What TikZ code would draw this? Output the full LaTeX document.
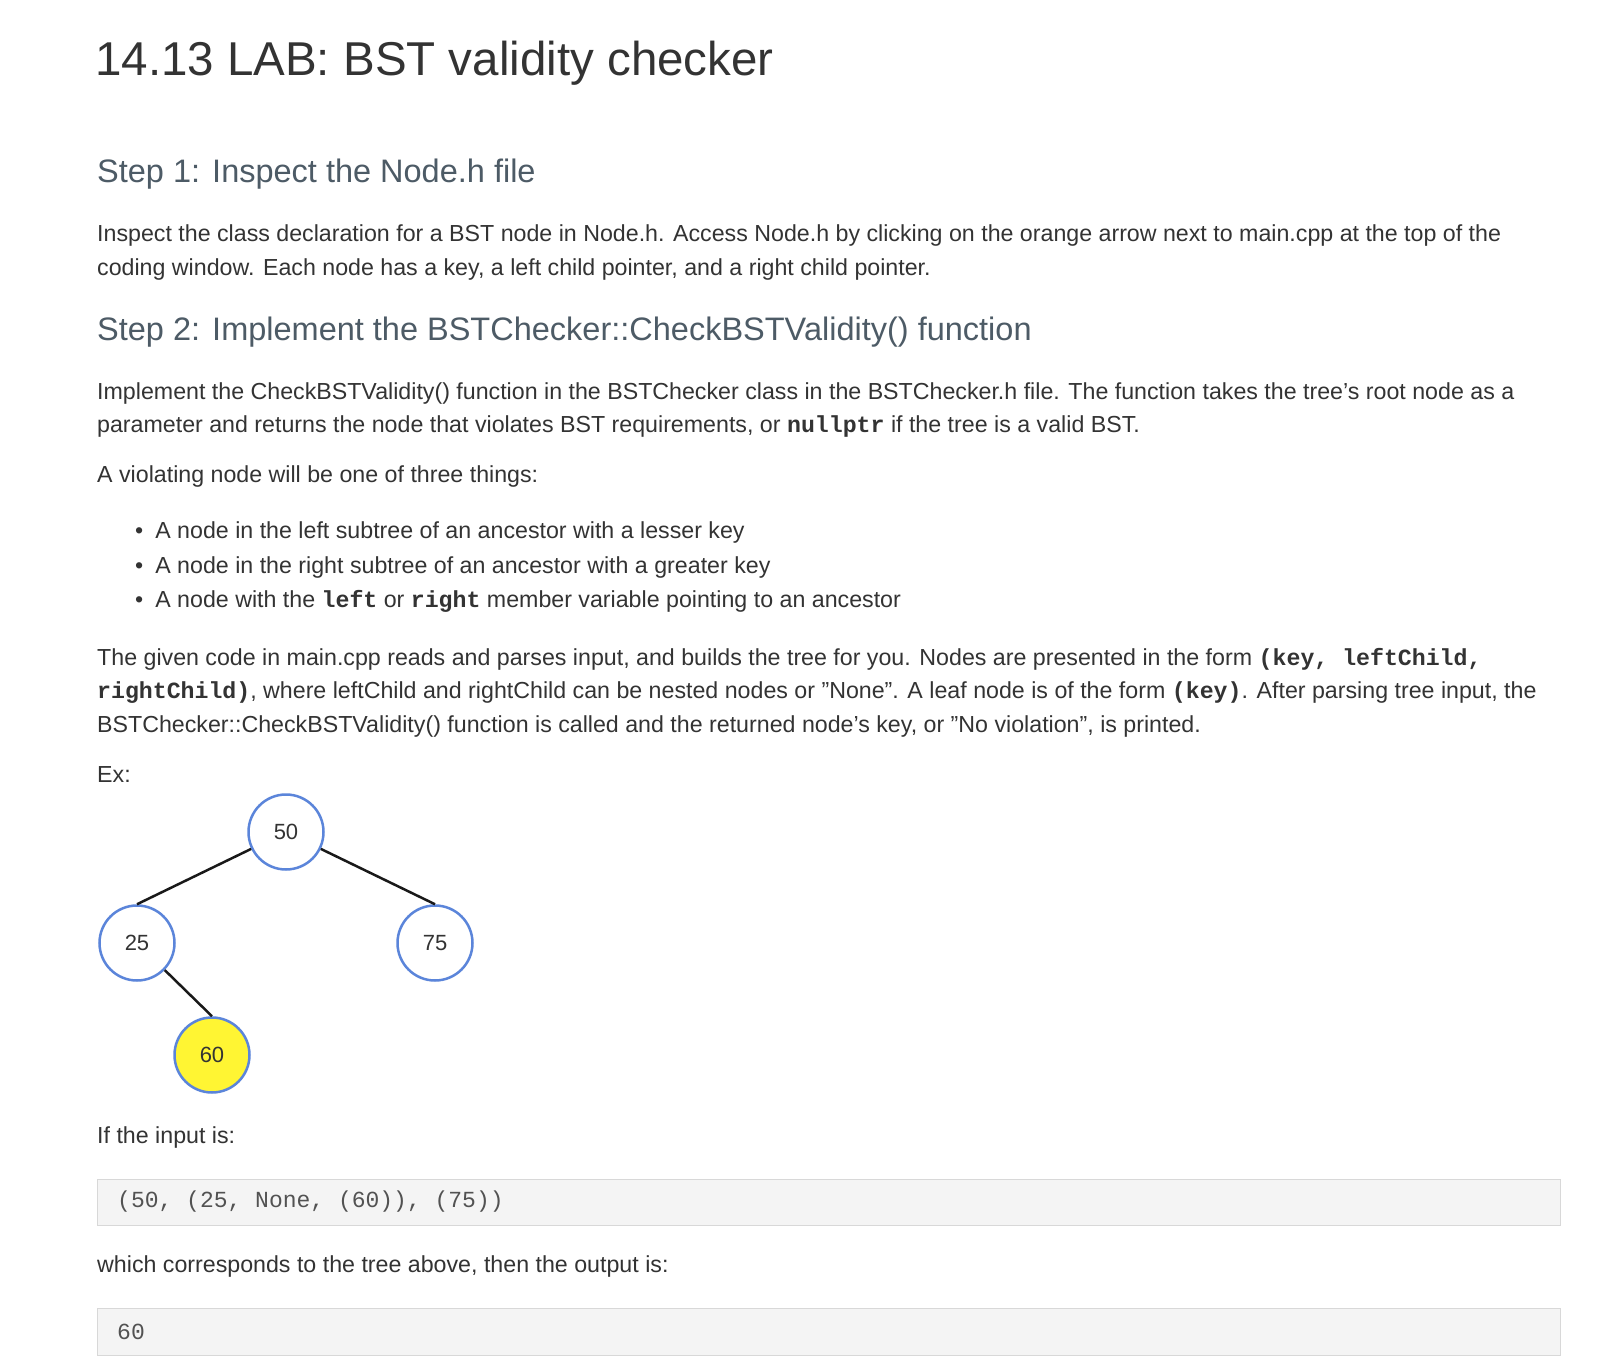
\documentclass[tikz,border=0pt]{standalone}
\usepackage{fontspec}
\setmainfont{Liberation Sans}
\newfontfamily\codefont{Liberation Mono}
\definecolor{txt}{HTML}{333333}
\definecolor{head}{HTML}{4D5B66}
\definecolor{ring}{HTML}{5B85DA}
\definecolor{codebg}{HTML}{F4F4F4}
\definecolor{codeln}{HTML}{D8D8D8}
\newcommand{\ic}[1]{{\codefont\bfseries #1}}
\newcommand{\dq}{\symbol{34}}
\begin{document}
\begin{tikzpicture}[x=1pt,y=-1pt,
  body/.style={anchor=west,inner sep=0,text=txt,font=\fontsize{23.2}{27}\selectfont},
  hd/.style={anchor=west,inner sep=0,text=head,font=\fontsize{32.5}{36}\selectfont},
  tnode/.style={circle,draw=ring,line width=2.5pt,minimum size=75pt,inner sep=0,font=\fontsize{22}{24}\selectfont,text=txt},
  edge/.style={line width=2.5pt,black!90},
  codebox/.style={fill=codebg,draw=codeln,line width=1pt},
  code/.style={anchor=west,inner sep=0,text=txt!85,font=\codefont\fontsize{23}{26}\selectfont}]
\useasboundingbox (0,0) rectangle (1612,1364);
\fill[white] (0,0) rectangle (1612,1364);
\node[anchor=west,inner sep=0,text=txt,font=\fontsize{47.5}{54}\selectfont] (title) at (95,63) {14.13 LAB: BST validity checker};
\node[hd] (h1) at (97,174) {Step 1: Inspect the Node.h file};
\node[body] (p1) at (97,236) {Inspect the class declaration for a BST node in Node.h. Access Node.h by clicking on the orange arrow next to main.cpp at the top of the};
\node[body] (p2) at (97,270) {coding window. Each node has a key, a left child pointer, and a right child pointer.};
\node[hd] (h2) at (97,332) {Step 2: Implement the BSTChecker::CheckBSTValidity() function};
\node[body] (p3) at (97,394) {Implement the CheckBSTValidity() function in the BSTChecker class in the BSTChecker.h file. The function takes the tree's root node as a};
\node[body] (p4) at (97,427) {parameter and returns the node that violates BST requirements, or \ic{nullptr} if the tree is a valid BST.};
\node[body] (p5) at (97,476) {A violating node will be one of three things:};
\node[body] (b1) at (135,533) {\textbullet\hspace{12pt}A node in the left subtree of an ancestor with a lesser key};
\node[body] (b2) at (135,567) {\textbullet\hspace{12pt}A node in the right subtree of an ancestor with a greater key};
\node[body] (b3) at (135,601) {\textbullet\hspace{12pt}A node with the \ic{left} or \ic{right} member variable pointing to an ancestor};
\node[body] (p6) at (97,659) {The given code in main.cpp reads and parses input, and builds the tree for you. Nodes are presented in the form \ic{(key, leftChild,}};
\node[body] (p7) at (97,693) {\ic{rightChild)}, where leftChild and rightChild can be nested nodes or \dq None\dq. A leaf node is of the form \ic{(key)}. After parsing tree input, the};
\node[body] (p8) at (97,726) {BSTChecker::CheckBSTValidity() function is called and the returned node's key, or \dq No violation\dq, is printed.};
\node[body] (ex) at (97,775) {Ex:};
\node[tnode] (n50) at (286,832) {50};
\node[tnode] (n25) at (137,943) {25};
\node[tnode] (n75) at (435,943) {75};
\node[tnode,fill=yellow!80] (n60) at (212,1055) {60};
\draw[edge] (n50) -- (n25.north);
\draw[edge] (n50) -- (n75.north);
\draw[edge] (n25) -- (n60.north);
\node[body] (p9) at (97,1137) {If the input is:};
\draw[codebox] (97,1179) rectangle (1560,1225);
\node[code] (c1) at (117,1202) {(50, (25, None, (60)), (75))};
\node[body] (p10) at (97,1266) {which corresponds to the tree above, then the output is:};
\draw[codebox] (97,1308) rectangle (1560,1355);
\node[code] (c2) at (117,1332) {60};
\end{tikzpicture}
\end{document}
